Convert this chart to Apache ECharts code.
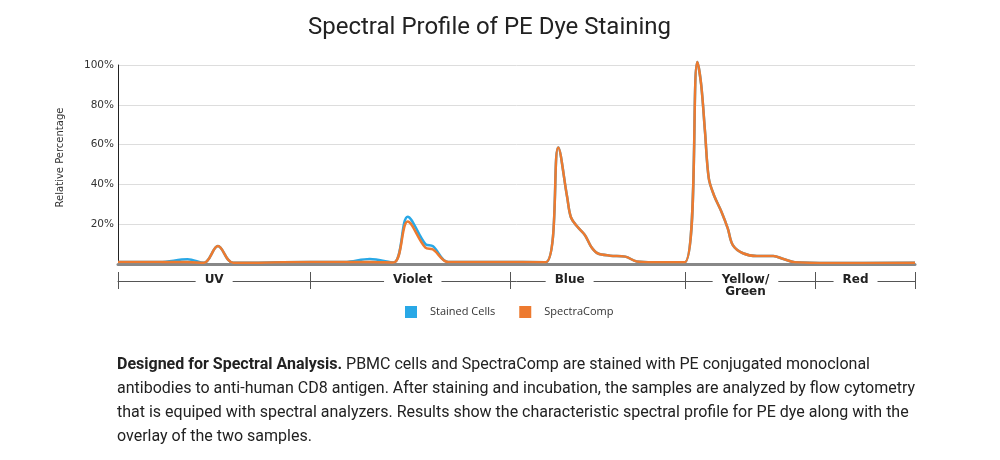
<!DOCTYPE html>
<html>
<head>
<meta charset="utf-8">
<script src="https://cdn.jsdelivr.net/npm/echarts@6/dist/echarts.min.js"></script>
<style>html,body{margin:0;padding:0;background:#fff}#c{width:1000px;height:460px}</style>
</head>
<body>
<div id="c"></div>
<script>
// Channel positions (detector index scale)
var channelPos = [0, 3.3, 5.5, 6.8, 7.9, 9.1, 15.2, 17.9, 19.9, 21.8, 22.9, 24.3, 24.9, 26.1, 31, 33.8, 34.8, 35.5, 35.8, 36.3, 36.9, 37.4, 37.9, 38.9, 40.1, 41, 42.3, 44.8, 45.8, 46.1, 46.4, 46.7, 47.1, 47.7, 48.2, 48.6, 49.4, 50.5, 51.8, 52.6, 53.5, 56.3, 63];
var stainedCells = [1, 1, 2.4, 0.6, 9, 0.6, 1, 1, 2.5, 0.8, 23.8, 10, 8.9, 1, 1, 0.9, 58.6, 33.8, 23.5, 18.8, 14.6, 8.7, 5.4, 4.2, 3.7, 1.3, 0.9, 0.9, 101.5, 90, 66.5, 43, 34.7, 26.3, 17.9, 9.5, 5.4, 4, 4, 2.5, 0.9, 0.5, 0.6];
var spectraComp = [1, 1, 1, 0.6, 9, 0.6, 1, 1, 1, 0.8, 21.3, 8.2, 7.3, 1, 1, 0.9, 58.6, 33.8, 23.5, 18.8, 14.6, 8.7, 5.4, 4.2, 3.7, 1.3, 0.9, 0.9, 101.5, 90, 66.5, 43, 34.7, 26.3, 17.9, 9.5, 5.4, 4, 4, 2.5, 0.9, 0.5, 0.6];
var bandBounds = [0, 15.2, 31.0, 44.8, 55.1, 63];
var bandNames = ['UV', 'Violet', 'Blue', 'Yellow/\nGreen', 'Red'];
var bandLabelPos = [7.6, 23.3, 35.7, 49.6, 58.3];
var yTicks = [0, 20, 40, 60, 80, 100];
var seriesNames = ['Stained Cells', 'SpectraComp'];

function zip(xs, ys) { return xs.map(function (x, i) { return [x, ys[i]]; }); }

var chart = echarts.init(document.getElementById('c'), null, { renderer: 'canvas' });
var xMin = bandBounds[0], xMax = bandBounds[bandBounds.length - 1];

var option = {
  animation: false,
  backgroundColor: '#fff',
  title: [
    {
      text: 'Spectral Profile of PE Dye Staining',
      left: 308, top: 16, padding: 0,
      textStyle: { fontFamily: 'Roboto', fontSize: 24, fontWeight: 'normal', color: '#222' }
    },
    {
      text: '{b|Designed for Spectral Analysis.} PBMC cells and SpectraComp are stained with PE conjugated monoclonal\n' +
            'antibodies to anti-human CD8 antigen. After staining and incubation, the samples are analyzed by flow cytometry\n' +
            'that is equiped with spectral analyzers. Results show the characteristic spectral profile for PE dye along with the\n' +
            'overlay of the two samples.',
      left: 117, top: 353, padding: 0,
      textStyle: {
        fontFamily: 'Roboto', fontSize: 16, fontWeight: 'normal', color: '#222', lineHeight: 24,
        rich: { b: { fontFamily: 'Roboto', fontSize: 16, fontWeight: 'bold', color: '#222', lineHeight: 24 } }
      }
    }
  ],
  legend: {
    data: seriesNames,
    left: 405, top: 306, padding: 0,
    icon: 'rect', itemWidth: 12, itemHeight: 12, itemGap: 24,
    textStyle: { fontFamily: 'Open Sans', fontSize: 11, color: '#333', padding: [0, 0, 0, 8] }
  },
  grid: { left: 118, right: 85, top: 65, bottom: 196, containLabel: false },
  xAxis: [
    {
      type: 'value', min: xMin, max: xMax,
      axisLine: { show: true, lineStyle: { color: '#888', width: 3 } },
      axisTick: { show: false }, axisLabel: { show: false }, splitLine: { show: false }
    },
    {
      type: 'value', min: xMin, max: xMax, position: 'bottom', offset: 17,
      axisLine: { show: true, lineStyle: { color: '#555', width: 1 } },
      axisTick: { show: true, customValues: bandBounds, length: 8, lineStyle: { color: '#555' } },
      axisLabel: {
        show: true, customValues: bandLabelPos, margin: -7,
        fontFamily: 'DejaVu Sans', fontSize: 12, fontWeight: 'bold', color: '#222',
        lineHeight: 12, backgroundColor: '#fff', padding: [0, 9, 0, 9],
        formatter: function (v) {
          var best = 0;
          for (var i = 0; i < bandLabelPos.length; i++) {
            if (Math.abs(bandLabelPos[i] - v) < Math.abs(bandLabelPos[best] - v)) best = i;
          }
          return bandNames[best];
        }
      },
      splitLine: { show: false }
    },
    {
      type: 'value', min: xMin, max: xMax, position: 'bottom', offset: 17,
      axisLine: { show: false },
      axisTick: { show: true, inside: true, customValues: bandBounds, length: 9, lineStyle: { color: '#555' } },
      axisLabel: { show: false }, splitLine: { show: false }
    }
  ],
  yAxis: {
    type: 'value', min: yTicks[0], max: yTicks[yTicks.length - 1], interval: 20,
    name: 'Relative Percentage', nameLocation: 'middle', nameGap: 53, nameRotate: 90,
    nameTextStyle: { fontFamily: 'DejaVu Sans', fontSize: 10, color: '#333', padding: [0, 0, 0, 14] },
    axisLine: { show: true, lineStyle: { color: '#222', width: 1 } },
    axisTick: { show: false },
    axisLabel: {
      fontFamily: 'DejaVu Sans', fontSize: 10.5, color: '#333', margin: 4,
      formatter: function (v) { return v === 0 ? '' : v + '%'; }
    },
    splitLine: { show: true, lineStyle: { color: '#ddd', width: 1 } }
  },
  series: [
    {
      name: seriesNames[0], type: 'line', xAxisIndex: 0, smooth: 0.35, clip: false,
      showSymbol: false, symbol: 'none', data: zip(channelPos, stainedCells),
      itemStyle: { color: '#29a8e6' }, lineStyle: { color: '#29a8e6', width: 2.5 }
    },
    {
      name: seriesNames[1], type: 'line', xAxisIndex: 0, smooth: 0.35, clip: false,
      showSymbol: false, symbol: 'none', data: zip(channelPos, spectraComp),
      itemStyle: { color: '#ed7a2f' }, lineStyle: { color: '#ed7a2f', width: 2.5 }
    }
  ]
};
chart.setOption(option);
</script>
</body>
</html>
